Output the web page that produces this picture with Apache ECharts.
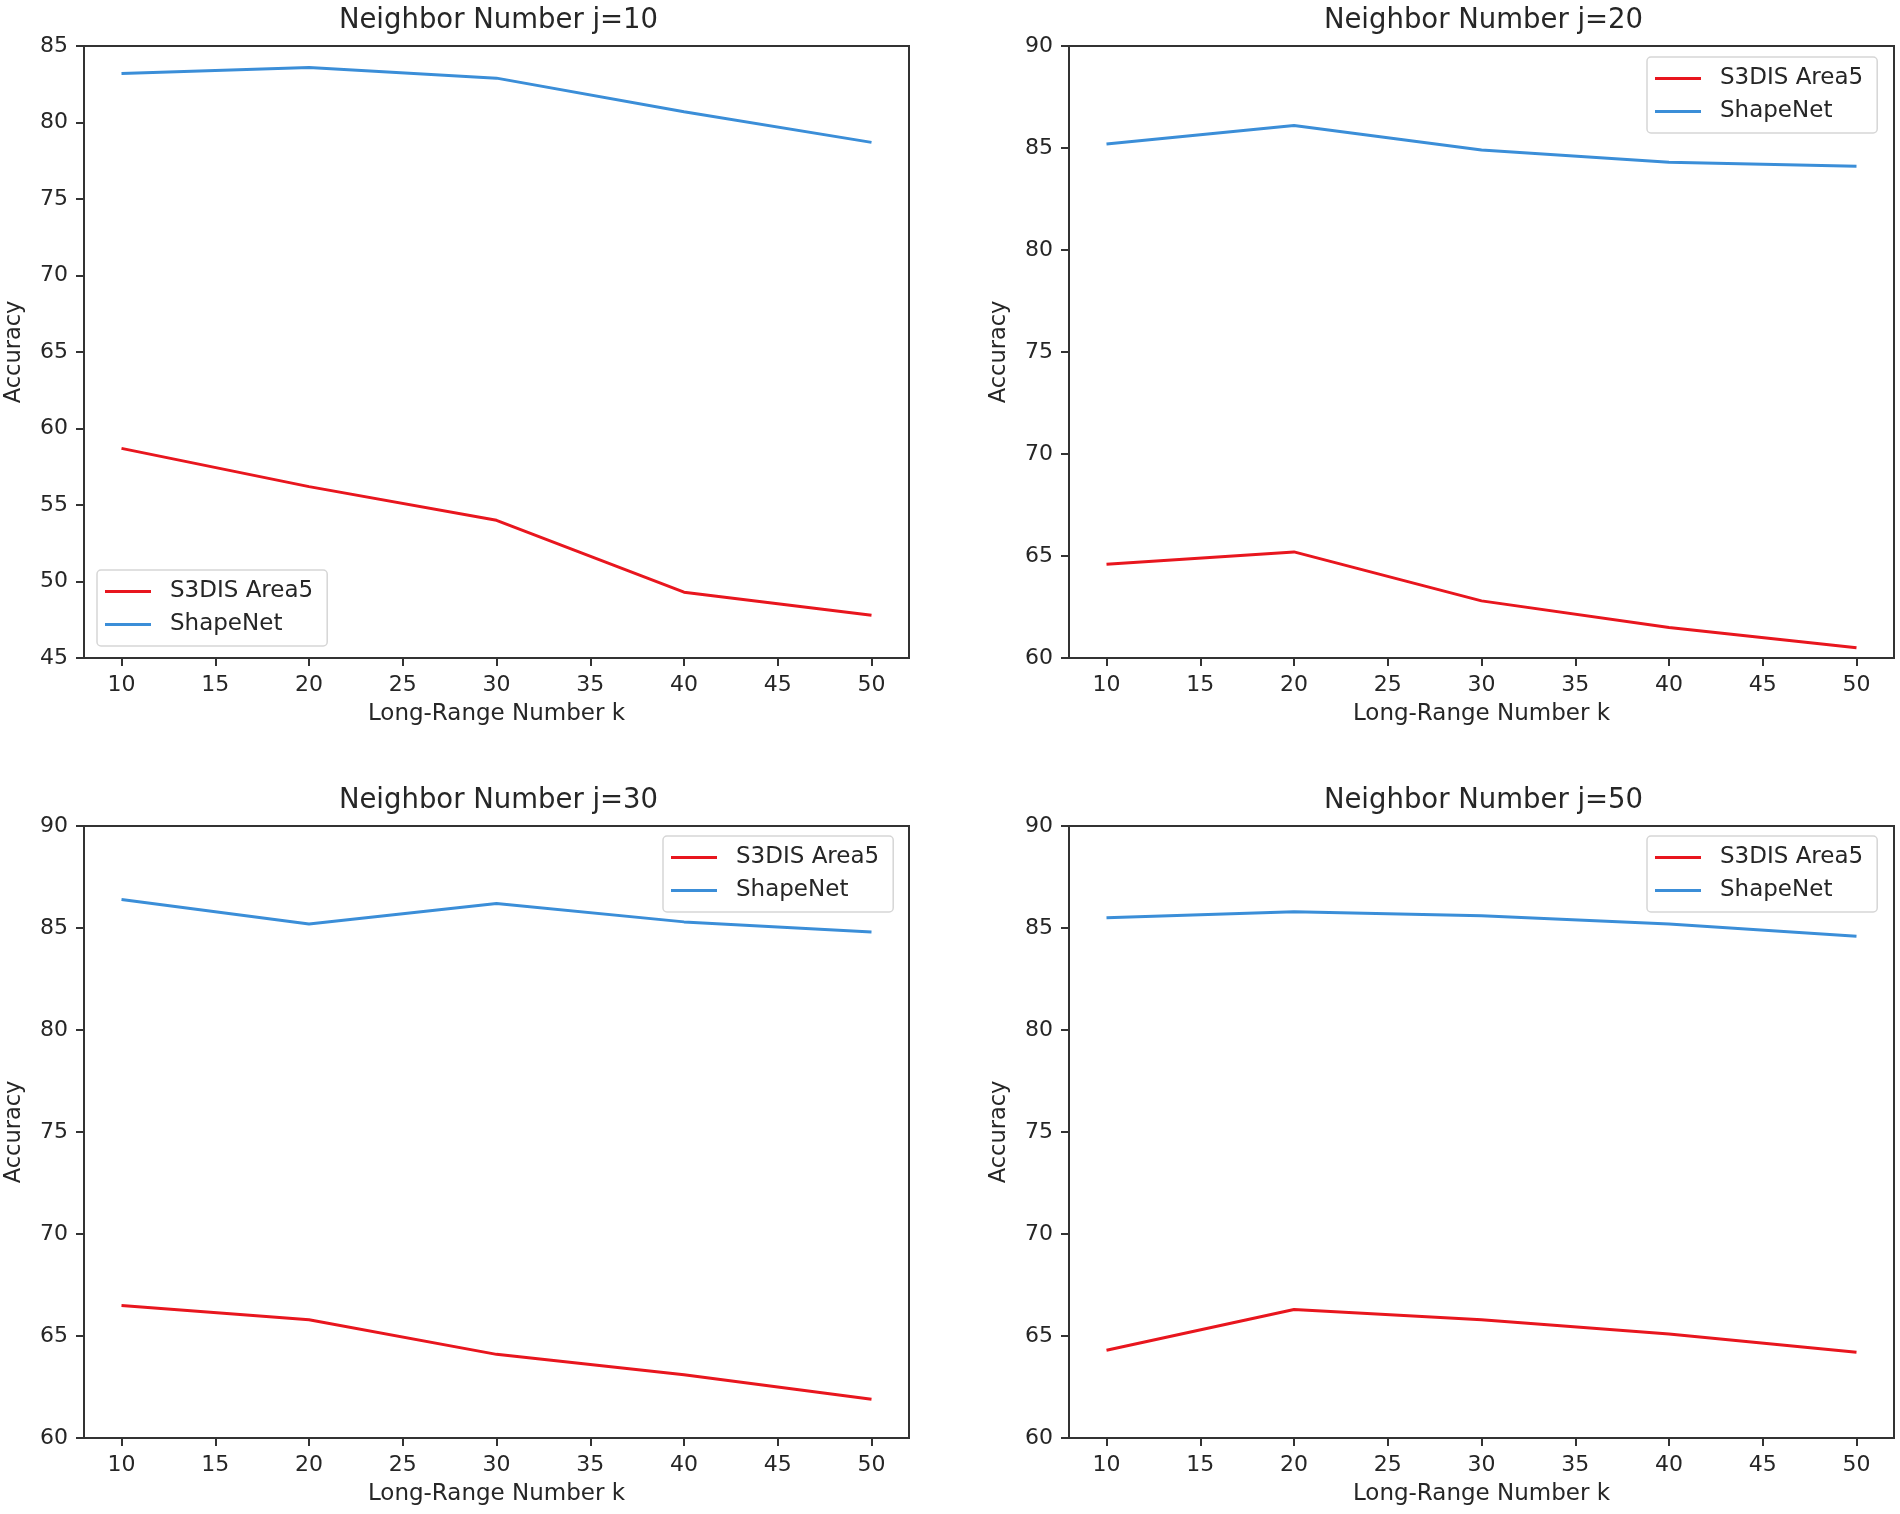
<!DOCTYPE html>
<html>
<head>
<meta charset="utf-8">
<script src="https://cdn.jsdelivr.net/npm/echarts@6/dist/echarts.min.js"></script>
<style>
  html, body { margin: 0; padding: 0; background: #fff; }
  #main { width: 1900px; height: 1514px; }
</style>
</head>
<body>
<div id="main"></div>
<script>
var kValues = [10, 20, 30, 40, 50];
var kTicks = [10, 15, 20, 25, 30, 35, 40, 45, 50];
var seriesNames = ['S3DIS Area5', 'ShapeNet'];
var jTitles = ['Neighbor Number j=10', 'Neighbor Number j=20', 'Neighbor Number j=30', 'Neighbor Number j=50'];

// accuracy
var s3dis_j10 = [58.7, 56.2, 54.0, 49.3, 47.8];
var shapenet_j10 = [83.2, 83.6, 82.9, 80.7, 78.7];
var s3dis_j20 = [64.6, 65.2, 62.8, 61.5, 60.5];
var shapenet_j20 = [85.2, 86.1, 84.9, 84.3, 84.1];
var s3dis_j30 = [66.5, 65.8, 64.1, 63.1, 61.9];
var shapenet_j30 = [86.4, 85.2, 86.2, 85.3, 84.8];
var s3dis_j50 = [64.3, 66.3, 65.8, 65.1, 64.2];
var shapenet_j50 = [85.5, 85.8, 85.6, 85.2, 84.6];

var yMin = [45, 60, 60, 60];
var yMax = [85, 90, 90, 90];

var panels = [
  { left: 84, top: 46, s3dis: s3dis_j10, shape: shapenet_j10, legend: { left: 97, top: 570 } },
  { left: 1069, top: 46, s3dis: s3dis_j20, shape: shapenet_j20, legend: { left: 1647, top: 57 } },
  { left: 84, top: 826, s3dis: s3dis_j30, shape: shapenet_j30, legend: { left: 663, top: 836 } },
  { left: 1069, top: 826, s3dis: s3dis_j50, shape: shapenet_j50, legend: { left: 1647, top: 836 } }
];
var W = 825, H = 612;
var RED = '#e8161e', BLUE = '#3b8ed8';
var txt = '#262626';
var font = 'DejaVu Sans';

function pairs(vals) {
  return kValues.map(function (k, i) { return [k, vals[i]]; });
}

var grids = [], xAxes = [], yAxes = [], series = [], titles = [], legends = [];
panels.forEach(function (p, i) {
  grids.push({
    left: p.left, top: p.top, width: W, height: H,
    show: true, borderColor: '#333', borderWidth: 2, backgroundColor: '#fff'
  });
  titles.push({
    text: jTitles[i],
    left: p.left + W / 2 - 3, top: p.top - 44,
    textAlign: 'center',
    textStyle: { fontFamily: font, fontSize: 27.5, fontWeight: 'normal', color: txt }
  });
  xAxes.push({
    type: 'value', gridIndex: i, min: 8, max: 52,
    name: 'Long-Range Number k', nameLocation: 'middle', nameGap: 45,
    nameTextStyle: { fontFamily: font, fontSize: 23, color: txt },
    axisLine: { show: true, lineStyle: { color: '#333', width: 2 } },
    axisTick: { show: true, length: 8, customValues: kTicks, lineStyle: { color: '#333', width: 2 } },
    axisLabel: { customValues: kTicks, margin: 16, fontFamily: font, fontSize: 22, color: txt },
    splitLine: { show: false }
  });
  yAxes.push({
    type: 'value', gridIndex: i, min: yMin[i], max: yMax[i], interval: 5,
    name: 'Accuracy', nameLocation: 'middle', nameGap: 58,
    nameTextStyle: { fontFamily: font, fontSize: 22.5, color: txt },
    axisLine: { show: true, lineStyle: { color: '#333', width: 2 } },
    axisTick: { show: true, length: 8, lineStyle: { color: '#333', width: 2 } },
    axisLabel: { margin: 16, fontFamily: font, fontSize: 22, color: txt },
    splitLine: { show: false }
  });
  series.push({
    name: seriesNames[0], type: 'line', xAxisIndex: i, yAxisIndex: i,
    data: pairs(p.s3dis), symbol: 'none', color: RED,
    lineStyle: { color: RED, width: 3 }, z: 3
  });
  series.push({
    name: seriesNames[1], type: 'line', xAxisIndex: i, yAxisIndex: i,
    data: pairs(p.shape), symbol: 'none', color: BLUE,
    lineStyle: { color: BLUE, width: 3 }, z: 3
  });
  legends.push({
    data: seriesNames, orient: 'vertical',
    left: p.legend.left, top: p.legend.top,
    icon: 'rect', itemWidth: 46, itemHeight: 3, itemGap: 10,
    padding: [10, 14, 10, 8],
    borderColor: '#d6d6d6', borderWidth: 1.5, borderRadius: 4,
    backgroundColor: 'rgba(255,255,255,0.85)',
    selectedMode: false,
    textStyle: { fontFamily: font, fontSize: 23, color: txt, padding: [0, 0, 0, 14] }
  });
});

var chart = echarts.init(document.getElementById('main'));
chart.setOption({
  animation: false,
  backgroundColor: '#fff',
  title: titles,
  legend: legends,
  grid: grids,
  xAxis: xAxes,
  yAxis: yAxes,
  series: series
});
</script>
</body>
</html>
